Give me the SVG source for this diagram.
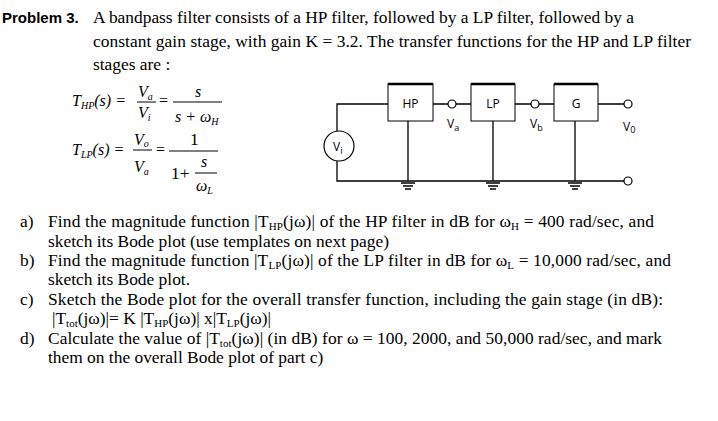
<svg xmlns="http://www.w3.org/2000/svg" width="718" height="421" viewBox="0 0 718 421">
<style>
.t{font-family:"Liberation Serif",serif;font-size:17.4px;fill:#000}
.m{font-family:"Liberation Serif",serif;font-style:italic;font-size:16px;fill:#000}
.s{font-family:"Open Sans","DejaVu Sans",sans-serif;font-size:12px;fill:#000}
.w{stroke:#000;stroke-width:1.3;fill:none}
.b{stroke:#000;stroke-width:1;fill:#fff}
.c{stroke:#000;stroke-width:1.2;fill:#fff}
</style>
<rect width="718" height="421" fill="#fff"/>
<text x="2" y="23" font-family="Liberation Sans,sans-serif" font-size="15" font-weight="bold">Problem 3.</text>
<text class="t" x="93" y="23" textLength="541">A bandpass filter consists of a HP filter, followed by a LP filter, followed by a</text>
<text class="t" x="93" y="47" textLength="598">constant gain stage, with gain K = 3.2. The transfer functions for the HP and LP filter</text>
<text class="t" x="93" y="70">stages are :</text>
<g id="eq">
<text class="m" x="72" y="106">T<tspan font-size="10" dy="3">HP</tspan><tspan dy="-3">(s) =</tspan></text>
<text class="m" x="138" y="97">V<tspan font-size="10" dy="3">a</tspan></text>
<line x1="137" y1="102" x2="156" y2="102" stroke="#000"/>
<text class="m" x="138" y="118">V<tspan font-size="10" dy="3">i</tspan></text>
<text class="m" x="158" y="106">=</text>
<text class="m" x="195" y="97">s</text>
<line x1="173" y1="102" x2="222" y2="102" stroke="#000"/>
<text class="m" x="175" y="122">s + ω<tspan font-size="10" dy="3">H</tspan></text>
<text class="m" x="72" y="155">T<tspan font-size="10" dy="3">LP</tspan><tspan dy="-3">(s) =</tspan></text>
<text class="m" x="134" y="145">V<tspan font-size="10" dy="2">o</tspan></text>
<line x1="133" y1="150" x2="152" y2="150" stroke="#000"/>
<text class="m" x="134" y="172">V<tspan font-size="10" dy="3">a</tspan></text>
<text class="m" x="155" y="155">=</text>
<text class="t" x="190" y="145" font-size="16">1</text>
<line x1="169" y1="151" x2="218" y2="151" stroke="#000"/>
<text class="t" x="171" y="179" font-size="16">1+</text>
<text class="m" x="201" y="167">s</text>
<line x1="195" y1="173" x2="217" y2="173" stroke="#000"/>
<text class="m" x="196" y="191">ω<tspan font-size="10" dy="3">L</tspan></text>
</g>
<g id="connectors">
<path class="w" d="M337 131V104H388M433 104H448M456 104H471M515 104H531M539 104H554M598 104H624M337 161V181H624M408 121V181M493 121V181M575 121V181"/>
<path class="w" d="M401 183H415M403 186H413M405 189H411M486 183H500M488 186H498M490 189H496M568 183H582M570 186H580M572 189H578" stroke-width="1"/>
</g>
<g id="hp"><rect class="b" x="388" y="84" width="45" height="37"/><line x1="388" y1="84" x2="433" y2="84" stroke="#000" stroke-width="2.5"/><text class="s" x="410.5" y="108" text-anchor="middle">HP</text></g>
<g id="lp"><rect class="b" x="471" y="84" width="44" height="37"/><line x1="471" y1="84" x2="515" y2="84" stroke="#000" stroke-width="2.5"/><text class="s" x="493" y="108" text-anchor="middle">LP</text></g>
<g id="g"><rect class="b" x="554" y="84" width="44" height="37"/><line x1="554" y1="84" x2="598" y2="84" stroke="#000" stroke-width="2.5"/><text class="s" x="576" y="108" text-anchor="middle">G</text></g>
<g id="vi"><circle class="c" cx="339" cy="146" r="15"/><text class="s" x="333" y="151" font-size="13">V<tspan font-size="9" dy="3">i</tspan></text></g>
<g id="va"><circle class="c" cx="452" cy="104" r="4"/><text class="s" x="447" y="128" font-size="13">V<tspan font-size="9" dy="3">a</tspan></text></g>
<g id="vb"><circle class="c" cx="535" cy="104" r="4"/><text class="s" x="530" y="128" font-size="13">V<tspan font-size="9" dy="3">b</tspan></text></g>
<g id="vo"><circle class="c" cx="628" cy="104" r="4"/><text class="s" x="623" y="131" font-size="13">V<tspan font-size="9" dy="2">0</tspan></text><circle class="c" cx="628" cy="181" r="4"/></g>
<text class="t" x="20" y="227">a)</text>
<text class="t" x="48" y="227" textLength="606">Find the magnitude function |T<tspan font-size="11" dy="3">HP</tspan><tspan dy="-3">(jω)| of  the HP filter in dB for ω</tspan><tspan font-size="11" dy="3">H</tspan><tspan dy="-3"> = 400 rad/sec, and</tspan></text>
<text class="t" x="48" y="247">sketch its Bode plot (use templates on next page)</text>
<text class="t" x="20" y="266">b)</text>
<text class="t" x="48" y="266" textLength="623">Find the magnitude function |T<tspan font-size="11" dy="3">LP</tspan><tspan dy="-3">(jω)| of  the LP filter in dB for ω</tspan><tspan font-size="11" dy="3">L</tspan><tspan dy="-3"> = 10,000 rad/sec, and</tspan></text>
<text class="t" x="48" y="285">sketch its Bode plot.</text>
<text class="t" x="20" y="305">c)</text>
<text class="t" x="48" y="305" textLength="615">Sketch the Bode plot for the overall transfer function, including the gain stage (in dB):</text>
<text class="t" x="52" y="324">|T<tspan font-size="11" dy="3">tot</tspan><tspan dy="-3">(jω)|= K |T</tspan><tspan font-size="11" dy="3">HP</tspan><tspan dy="-3">(jω)| x|T</tspan><tspan font-size="11" dy="3">LP</tspan><tspan dy="-3">(jω)|</tspan></text>
<text class="t" x="20" y="344">d)</text>
<text class="t" x="48" y="344" textLength="614">Calculate the value of |T<tspan font-size="11" dy="3">tot</tspan><tspan dy="-3">(jω)| (in dB)  for ω = 100, 2000, and 50,000 rad/sec, and mark</tspan></text>
<text class="t" x="48" y="363">them on the overall Bode plot of part c)</text>
</svg>
